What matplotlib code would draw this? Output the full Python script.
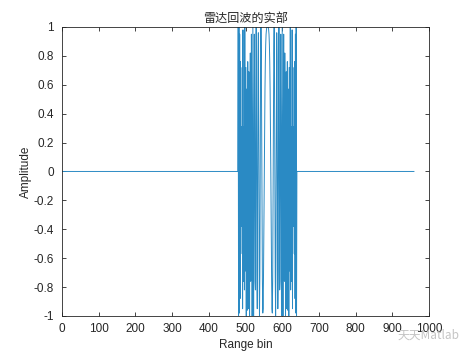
import numpy as np
import matplotlib
matplotlib.use("Agg")
import matplotlib.pyplot as plt

plt.rcParams['font.family'] = ['Liberation Sans', 'Noto Sans CJK SC', 'DejaVu Sans']
plt.rcParams['axes.unicode_minus'] = False

# ---- data ----
n_bins = 960
pulse_start = 480
pulse_values = [
    1.00, -1.00, 1.00, -0.98, 0.95, -0.88, 0.76, -0.57, 0.31, 0.02,
    -0.38, 0.72, -0.95, 0.98, -0.76, 0.29, 0.31, -0.82, 1.00, -0.69,
    0.00, 0.72, -1.00, 0.57, 0.31, -0.96, 0.76, 0.18, -0.95, 0.69,
    0.38, -1.00, 0.31, 0.82, -0.76, -0.47, 0.95, 0.18, -1.00, -0.02,
    1.00, 0.02, -1.00, -0.18, 0.95, 0.47, -0.76, -0.82, 0.31, 1.00,
    0.38, -0.69, -0.95, -0.18, 0.76, 0.96, 0.31, -0.57, -1.00, -0.72,
    0.00, 0.69, 1.00, 0.82, 0.31, -0.29, -0.76, -0.98, -0.95, -0.72,
    -0.38, -0.02, 0.31, 0.57, 0.76, 0.88, 0.95, 0.98, 1.00, 1.00,
    1.00, 1.00, 1.00, 0.98, 0.95, 0.88, 0.76, 0.57, 0.31, -0.02,
    -0.38, -0.72, -0.95, -0.98, -0.76, -0.29, 0.31, 0.82, 1.00, 0.69,
    0.00, -0.72, -1.00, -0.57, 0.31, 0.96, 0.76, -0.18, -0.95, -0.69,
    0.38, 1.00, 0.31, -0.82, -0.76, 0.47, 0.95, -0.18, -1.00, 0.02,
    1.00, -0.02, -1.00, 0.18, 0.95, -0.47, -0.76, 0.82, 0.31, -1.00,
    0.38, 0.69, -0.95, 0.18, 0.76, -0.96, 0.31, 0.57, -1.00, 0.72,
    0.00, -0.69, 1.00, -0.82, 0.31, 0.29, -0.76, 0.98, -0.95, 0.72,
    -0.38, 0.02, 0.31, -0.57, 0.76, -0.88, 0.95, -0.98, 1.00, -1.00,
]
x_ticks = [0, 100, 200, 300, 400, 500, 600, 700, 800, 900, 1000]
y_ticks = [-1, -0.8, -0.6, -0.4, -0.2, 0, 0.2, 0.4, 0.6, 0.8, 1]
y_tick_labels = ['-1', '-0.8', '-0.6', '-0.4', '-0.2', '0', '0.2', '0.4', '0.6', '0.8', '1']
title = '雷达回波的实部'
x_label = 'Range bin'
y_label = 'Amplitude'

amplitude = np.zeros(n_bins)
amplitude[pulse_start:pulse_start + len(pulse_values)] = pulse_values
bins = np.arange(n_bins)

# ---- plot ----
fig = plt.figure(figsize=(4.74, 3.55), dpi=100)
ax = fig.add_axes([0.131, 0.110, 0.774, 0.814])
ax.plot(bins, amplitude, color='#2a8ac4', linewidth=0.7)
ax.set_xlim(0, 1000)
ax.set_ylim(-1, 1)
ax.set_xticks(x_ticks)
ax.set_yticks(y_ticks)
ax.set_yticklabels(y_tick_labels)
edge = '#262626'
for s in ax.spines.values():
    s.set_color(edge)
    s.set_linewidth(0.6)
ax.tick_params(direction='in', length=3, width=0.6, colors=edge, labelsize=8.5,
               top=True, right=True)
ax.tick_params(axis='x', pad=5)
ax.tick_params(axis='y', pad=6)
ax.tick_params(labeltop=False, labelright=False)
ax.set_xlabel(x_label, fontsize=8.5, color=edge, labelpad=3)
ax.set_ylabel(y_label, fontsize=8.5, color=edge, labelpad=1)
ax.set_title(title, fontsize=8.7, color=edge, pad=4,
             family=['Noto Sans CJK SC', 'DejaVu Sans'])

fig.text(0.905, 0.056, '天天Matlab', fontsize=8.5, color='#c4c4c4',
         ha='center', va='center', family=['Noto Sans CJK SC', 'DejaVu Sans'])

fig.savefig('out.png', dpi=100)
